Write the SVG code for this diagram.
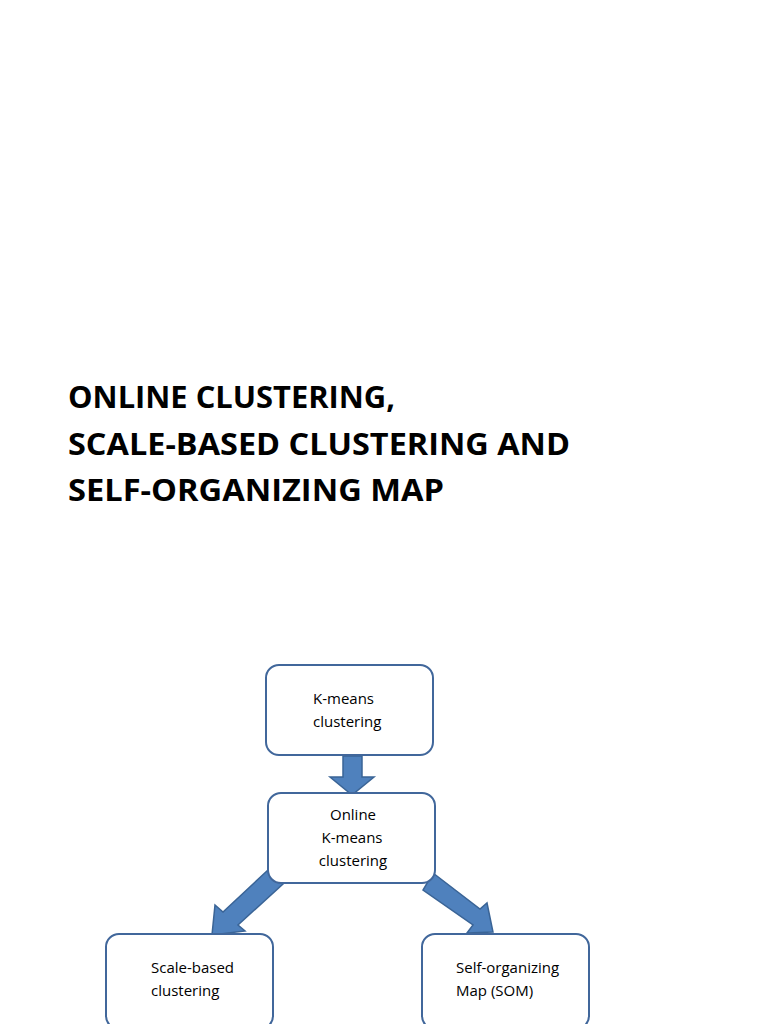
<svg xmlns="http://www.w3.org/2000/svg" width="768" height="1024" viewBox="0 0 768 1024">
<style>
.box{fill:#fff;stroke:#41679b;stroke-width:2}
.t{font-family:"Open Sans","Liberation Sans",sans-serif;font-size:15px;fill:#000}
.h{font-family:"Open Sans","Liberation Sans",sans-serif;font-size:30px;font-weight:bold;fill:#000}
.arr{fill:#4f81bd;stroke:#3a6496;stroke-width:1.5}
</style>
<rect width="768" height="1024" fill="#fff"/>
<g id="title">
<text class="h" x="68" y="408" textLength="327" lengthAdjust="spacingAndGlyphs">ONLINE CLUSTERING,</text>
<text class="h" x="68" y="455" textLength="502" lengthAdjust="spacingAndGlyphs">SCALE-BASED CLUSTERING AND</text>
<text class="h" x="68" y="501" textLength="376" lengthAdjust="spacingAndGlyphs">SELF-ORGANIZING MAP</text>
</g>
<g id="connectors">
<polygon class="arr" points="343,756 362,756 362,777 374,777 352,795 330,777 343,777"/>
<polygon class="arr" points="268,870 283,884 238,925 245,931 212,935 215,905 223,912"/>
<polygon class="arr" points="433,873 480,909 487,903 493,932 467,933 473,925 423,890"/>
</g>
<g id="n1"><rect class="box" x="266" y="665" width="167" height="90" rx="13"/>
<text class="t" x="313" y="704">K-means</text><text class="t" x="313" y="727">clustering</text></g>
<g id="n2"><rect class="box" x="268" y="793" width="167" height="90" rx="13"/>
<text class="t" x="353" y="820" text-anchor="middle">Online</text><text class="t" x="352" y="843" text-anchor="middle">K-means</text><text class="t" x="353" y="866" text-anchor="middle">clustering</text></g>
<g id="n3"><rect class="box" x="106" y="934" width="167" height="95" rx="13"/>
<text class="t" x="151" y="973">Scale-based</text><text class="t" x="151" y="996">clustering</text></g>
<g id="n4"><rect class="box" x="422" y="934" width="167" height="95" rx="13"/>
<text class="t" x="456" y="973">Self-organizing</text><text class="t" x="456" y="996">Map (SOM)</text></g>
</svg>
